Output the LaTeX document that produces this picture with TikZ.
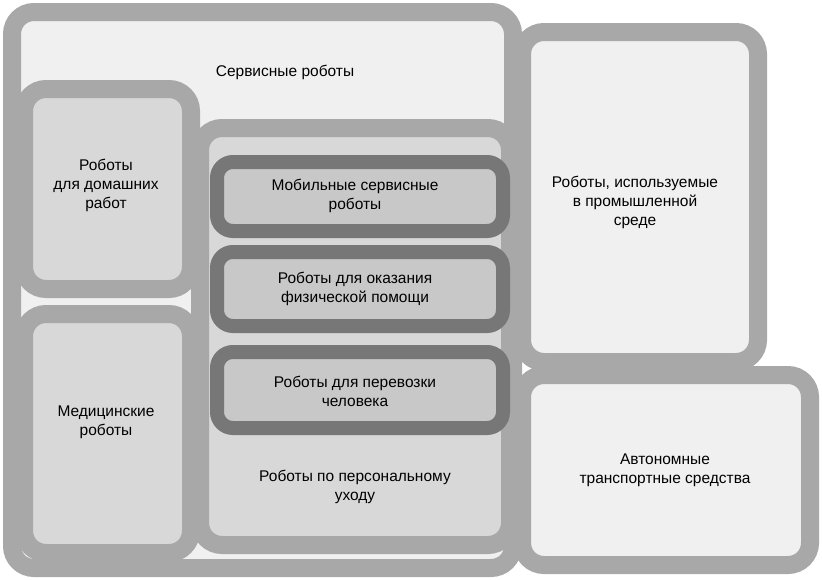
\documentclass[tikz,border=0pt]{standalone}
\usepackage{fontspec}
\setmainfont{Liberation Sans}
\definecolor{bord}{HTML}{A8A8A8}
\definecolor{lite}{HTML}{F0F0F0}
\definecolor{mid}{HTML}{D8D8D8}
\definecolor{dark}{HTML}{777777}
\definecolor{inn}{HTML}{C8C8C8}
\begin{document}
\begin{tikzpicture}[x=1pt,y=-1pt,
  outerbox/.style={draw=bord,fill=lite,line width=18pt,rounded corners=22pt},
  midbox/.style={draw=bord,fill=mid,line width=18pt,rounded corners=22pt},
  darkbox/.style={draw=dark,fill=inn,line width=14pt,rounded corners=16pt},
  lbl/.style={font=\fontsize{15.5}{19}\selectfont,align=center,text=black}]
\useasboundingbox (0,0) rectangle (822,579);
\fill[white] (0,0) rectangle (822,579);
\draw[outerbox] (12,12) rectangle (513,568);
\draw[outerbox] (522,32) rectangle (758,362);
\draw[outerbox] (522,375) rectangle (810,565);
\draw[midbox] (24,89) rectangle (191,289);
\draw[midbox] (24,314) rectangle (191,553);
\draw[midbox] (200,128) rectangle (510,545);
\draw[darkbox] (217,162) rectangle (503,231);
\draw[darkbox] (217,252) rectangle (503,326);
\draw[darkbox] (217,352) rectangle (503,428);
\node[lbl] (serv) at (285,72) {Сервисные роботы};
\node[lbl] (home) at (106,185) {Роботы\\для домашних\\работ};
\node[lbl] (med) at (106,422) {Медицинские\\роботы};
\node[lbl] (mob) at (355,196) {Мобильные сервисные\\роботы};
\node[lbl] (phys) at (355,289) {Роботы для оказания\\физической помощи};
\node[lbl] (trans) at (355,391) {Роботы для перевозки\\человека};
\node[lbl] (pers) at (355,487) {Роботы по персональному\\уходу};
\node[lbl] (ind) at (635,202) {Роботы, используемые\\в промышленной\\среде};
\node[lbl] (auto) at (665,470) {Автономные\\транспортные средства};
\end{tikzpicture}
\end{document}
